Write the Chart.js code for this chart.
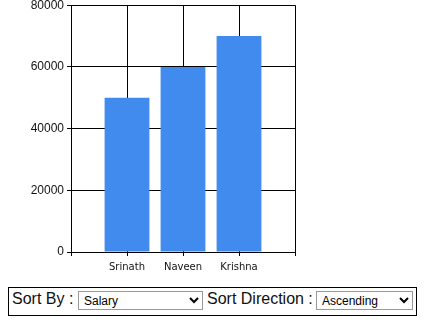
<!DOCTYPE html>
<html>
<head>
<meta charset="utf-8">
<script src="https://cdn.jsdelivr.net/npm/chart.js@4/dist/chart.umd.min.js"></script>
<style>
  body { margin: 0; background: #fff; font-family: "Liberation Sans", Arial, sans-serif; }
  #wrap { position: absolute; left: 0; top: -5px; width: 300px; height: 282px; }
  #controls {
    position: absolute; left: 8px; top: 287px; width: 409px; height: 29px;
    border: 1.5px solid #000; box-sizing: border-box; font-size: 16px; color: #111;
    white-space: nowrap;
  }
  #controls span, #controls select { position: absolute; top: 3px; }
  #controls span { top: 2px; }
  select {
    font-family: "Liberation Sans", Arial, sans-serif; font-size: 12px;
    height: 19px; border: 1px solid #999; background: #fff; padding: 0 1px;
  }
</style>
</head>
<body>
<div id="wrap"><canvas id="salaryChart"></canvas></div>
<div id="controls">
  <span style="left:3px">Sort By :</span>
  <select style="left:69px;width:125px"><option>Salary</option></select>
  <span style="left:198px">Sort Direction :</span>
  <select style="left:307px;width:97px"><option>Ascending</option></select>
</div>
<script>
// blank slots at both ends so the category ticks fall on the plot edges
const names = ['', 'Srinath', 'Naveen', 'Krishna', ''];
const salaries = [null, 50000, 60000, 70000, null];
const yTicks = [0, 20000, 40000, 60000, 80000];

const ctx = document.getElementById('salaryChart').getContext('2d');
new Chart(ctx, {
    type: 'bar',
    data: {
        labels: names,
        datasets: [{
            data: salaries,
            backgroundColor: '#428bee',
            barPercentage: 0.8,
            categoryPercentage: 1
        }]
    },
    options: {
        responsive: true,
        maintainAspectRatio: false,
        animation: false,
        layout: { padding: { top: 0, right: 5, left: 0, bottom: 0 } },
        plugins: { legend: { display: false }, tooltip: { enabled: false } },
        scales: {
            x: {
                offset: false,
                grid: { color: '#000', lineWidth: 1, tickLength: 4, offset: false },
                border: { color: '#000' },
                ticks: {
                    color: '#111',
                    font: { family: 'DejaVu Sans', size: 10 },
                    padding: 5,
                    maxRotation: 0,
                    autoSkip: false
                },
                afterFit: function (scale) { scale.height = 25; }
            },
            y: {
                min: 0,
                max: 80000,
                afterBuildTicks: function (scale) {
                    scale.ticks = yTicks.map(v => ({ value: v }));
                },
                grid: { color: '#000', lineWidth: 1, tickLength: 4 },
                border: { color: '#000' },
                ticks: {
                    color: '#111',
                    font: { family: 'Liberation Sans', size: 12 },
                    padding: 3,
                    callback: function (v) { return String(v); }
                },
                afterFit: function (scale) { scale.width = 71; }
            }
        }
    }
});
</script>
</body>
</html>
